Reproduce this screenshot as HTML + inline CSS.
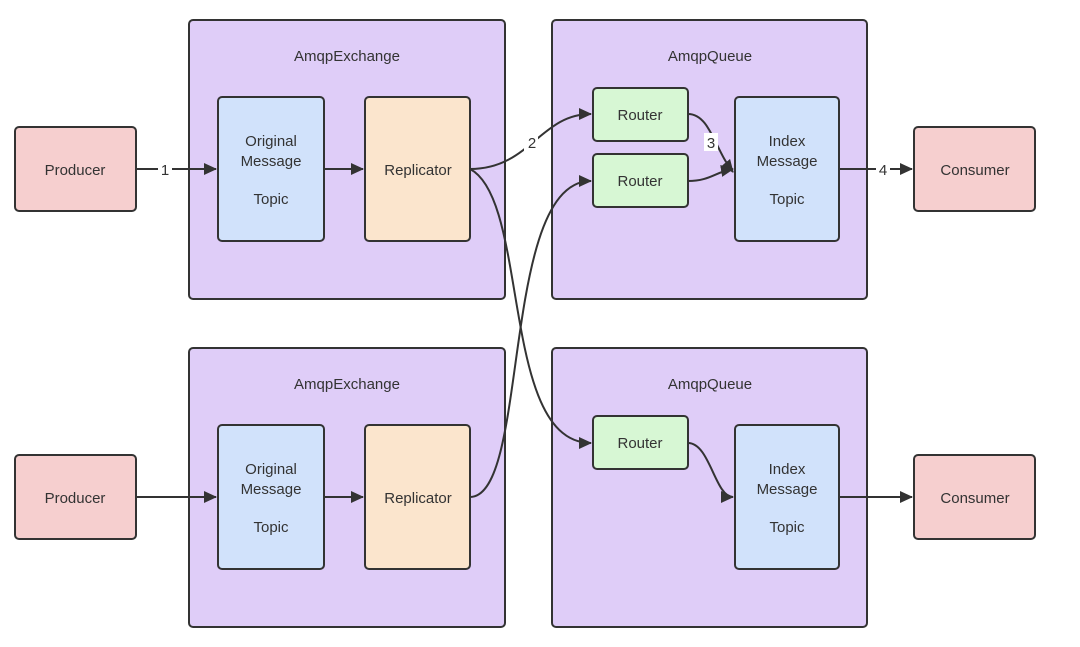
<!DOCTYPE html>
<html><head><style>
body{margin:0;width:1080px;height:642px;background:#fff;overflow:hidden}
svg text{font-family:"Liberation Sans",sans-serif;font-size:15px;fill:#333;text-anchor:middle}
</style></head><body>
<svg width="1080" height="642" viewBox="0 0 1080 642">
<defs><marker id="a" markerWidth="13" markerHeight="12" refX="12" refY="6" orient="auto" markerUnits="userSpaceOnUse"><path d="M0,0 L13,6 L0,12 Z" fill="#333"/></marker></defs>
<g stroke="#333" stroke-width="2">
<rect x="189" y="20" width="316" height="279" rx="4" fill="#dfcdf8"/>
<rect x="552" y="20" width="315" height="279" rx="4" fill="#dfcdf8"/>
<rect x="189" y="348" width="316" height="279" rx="4" fill="#dfcdf8"/>
<rect x="552" y="348" width="315" height="279" rx="4" fill="#dfcdf8"/>
<rect x="15" y="127" width="121" height="84" rx="4" fill="#f6cfcf"/>
<rect x="15" y="455" width="121" height="84" rx="4" fill="#f6cfcf"/>
<rect x="914" y="127" width="121" height="84" rx="4" fill="#f6cfcf"/>
<rect x="914" y="455" width="121" height="84" rx="4" fill="#f6cfcf"/>
<rect x="218" y="97" width="106" height="144" rx="4" fill="#d1e2fb"/>
<rect x="218" y="425" width="106" height="144" rx="4" fill="#d1e2fb"/>
<rect x="365" y="97" width="105" height="144" rx="4" fill="#fbe5cd"/>
<rect x="365" y="425" width="105" height="144" rx="4" fill="#fbe5cd"/>
<rect x="735" y="97" width="104" height="144" rx="4" fill="#d1e2fb"/>
<rect x="735" y="425" width="104" height="144" rx="4" fill="#d1e2fb"/>
<rect x="593" y="88" width="95" height="53" rx="4" fill="#d7f7d4"/>
<rect x="593" y="154" width="95" height="53" rx="4" fill="#d7f7d4"/>
<rect x="593" y="416" width="95" height="53" rx="4" fill="#d7f7d4"/>
</g>
<g stroke="#333" stroke-width="2" fill="none" marker-end="url(#a)">
<path d="M136,169 L216,169"/>
<path d="M324,169 L363,169"/>
<path d="M136,497 L216,497"/>
<path d="M324,497 L363,497"/>
<path d="M470,169 C530,169 540,114 591,114"/>
<path d="M470,169 C530,200 500,443 591,443"/>
<path d="M470,497 C530,497 500,181 591,181"/>
<path d="M688,114 C710,114 715,150 733,172"/>
<path d="M688,181 C710,181 715,172 733,169"/>
<path d="M688,443 C710,443 715,497 733,497"/>
<path d="M839,169 L912,169"/>
<path d="M839,497 L912,497"/>
</g>
<rect x="158" y="160" width="14" height="18" fill="#fff"/>
<rect x="524" y="133" width="14" height="18" fill="#fff"/>
<rect x="704" y="133" width="14" height="18" fill="#fff"/>
<rect x="876" y="160" width="14" height="18" fill="#fff"/>
<text x="165" y="175">1</text><text x="532" y="148">2</text><text x="711" y="148">3</text><text x="883" y="175">4</text>
<text x="347" y="61">AmqpExchange</text><text x="710" y="61">AmqpQueue</text>
<text x="347" y="389">AmqpExchange</text><text x="710" y="389">AmqpQueue</text>
<text x="75" y="175">Producer</text><text x="75" y="503">Producer</text>
<text x="975" y="175">Consumer</text><text x="975" y="503">Consumer</text>
<text x="271" y="146">Original</text><text x="271" y="166">Message</text><text x="271" y="204">Topic</text>
<text x="271" y="474">Original</text><text x="271" y="494">Message</text><text x="271" y="532">Topic</text>
<text x="418" y="175">Replicator</text><text x="418" y="503">Replicator</text>
<text x="787" y="146">Index</text><text x="787" y="166">Message</text><text x="787" y="204">Topic</text>
<text x="787" y="474">Index</text><text x="787" y="494">Message</text><text x="787" y="532">Topic</text>
<text x="640" y="120">Router</text><text x="640" y="186">Router</text><text x="640" y="448">Router</text>
</svg>
</body></html>
